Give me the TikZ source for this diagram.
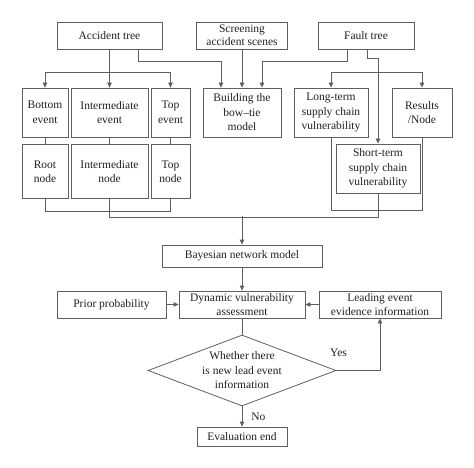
\documentclass[tikz,border=0pt]{standalone}
\usepackage{fontspec}
\setmainfont{Liberation Serif}
\usetikzlibrary{arrows.meta, shapes.geometric, positioning}
\definecolor{edge}{RGB}{95,95,95}
\definecolor{ink}{RGB}{35,31,32}
\tikzset{> = { Triangle[length = 5pt, width = 4.5pt] }}

\begin{document}
\begin{tikzpicture}[x = 1pt, y = -1pt, edge, line width = 0.8pt,
		box/.style = { draw = edge, rectangle, inner sep = 0pt, align = center, text = ink, font = \fontsize{11.5}{14.5}\selectfont },
		tight/.style = { box, font = \fontsize{11.5}{13.3}\selectfont },
		decision/.style = { box, diamond, aspect = 2.65, minimum width = 188pt, minimum height = 71pt },
		tag/.style = { text = ink, inner sep = 0pt, font = \fontsize{11.5}{14.5}\selectfont }]
		\useasboundingbox (0, 0) rectangle (474, 468);

		\node [box, minimum width = 105pt, minimum height = 27pt] (acc) at (109.5, 35.5) {Accident tree};
		\node [tight, minimum width = 91pt, minimum height = 27pt] (screen) at (242, 35.5) {Screening\\accident scenes};
		\node [box, minimum width = 96pt, minimum height = 27pt] (fault) at (366, 35.5) {Fault tree};

		\node [box, minimum width = 46pt, minimum height = 49pt] (bottomE) at (45, 112.5) {Bottom\\event};
		\node [box, minimum width = 77pt, minimum height = 49pt] (interE) at (109.5, 112.5) {Intermediate\\event};
		\node [box, minimum width = 39pt, minimum height = 49pt] (topE) at (170.5, 112.5) {Top\\event};
		\node [box, minimum width = 46pt, minimum height = 54pt, below = 7pt of bottomE] (rootN) {Root\\node};
		\node [box, minimum width = 77pt, minimum height = 54pt, below = 7pt of interE] (interN) {Intermediate\\node};
		\node [box, minimum width = 39pt, minimum height = 54pt, below = 7pt of topE] (topN) {Top\\node};

		\node [box, minimum width = 78pt, minimum height = 49pt] (bowtie) at (242, 112.5) {Building the\\bow--tie\\model};
		\node [box, minimum width = 74pt, minimum height = 49pt] (longT) at (331, 112.5) {Long-term\\supply chain\\vulnerability};
		\node [box, minimum width = 60pt, minimum height = 49pt] (results) at (422, 112.5) {Results\\/Node};
		\node [box, minimum width = 84pt, minimum height = 49pt] (shortT) at (378, 168.5) {Short-term\\supply chain\\vulnerability};

		\node [box, minimum width = 160pt, minimum height = 22pt] (bayes) at (242, 256) {Bayesian network model};
		\node [tight, minimum width = 126pt, minimum height = 27pt] (dyn) at (242, 304.5) {Dynamic vulnerability\\assessment};
		\node [box, minimum width = 109pt, minimum height = 27pt] (prior) at (111.5, 304.5) {Prior probability};
		\node [tight, minimum width = 122pt, minimum height = 27pt] (lead) at (380, 304.5) {Leading event\\evidence information};
		\node [decision] (newinfo) at (242, 370.5) {Whether there\\is new lead event\\information};
		\node [box, minimum width = 90pt, minimum height = 19pt] (evalend) at (242, 436.5) {Evaluation end};

		% split and merge points of the tree lines
		\coordinate (accsplit) at (109.5, 72);
		\coordinate (faultsplit) at (378, 72);
		\coordinate (merge) at (242, 216);

		\draw [->] (acc) -- (interE);
		\draw [->] (accsplit) -| (bottomE);
		\draw [->] (accsplit) -| (topE);
		\draw [->] ([xshift = 28.5pt]acc.south) -- ++(0, 12) -| ([xshift = -21pt]bowtie.north);
		\draw [->] (screen) -- (bowtie);
		\draw [->] ([xshift = -19pt]fault.south) -- ++(0, 12) -| ([xshift = 20pt]bowtie.north);
		\draw [->] ([xshift = 1pt]fault.south) -- ++(0, 9) -| (shortT.north);
		\draw [->] (faultsplit) -| (longT);
		\draw [->] (faultsplit) -| (results);

		\draw (bottomE) -- (rootN);
		\draw (interE) -- (interN);
		\draw (topE) -- (topN);

		\draw (rootN.south) -- ++(0, 12) -| (topN.south);
		\draw (interN.south) -- ++(0, 18) -| (shortT.south);
		\draw (longT.south) -- ++(0, 73) -| (results.south);
		\draw [->] (merge) -- (bayes);

		\draw [->] (bayes) -- (dyn);
		\draw [->] (prior) -- (dyn);
		\draw [->] (lead) -- (dyn);
		\draw (dyn) -- (newinfo);
		\draw [->] (newinfo.east) -| (lead.south);
		\draw [->] (newinfo) -- node[tag, right = 9pt]{No} (evalend);
		\node [tag] (yes) at (338.5, 353) {Yes};
	\end{tikzpicture}
\end{document}
